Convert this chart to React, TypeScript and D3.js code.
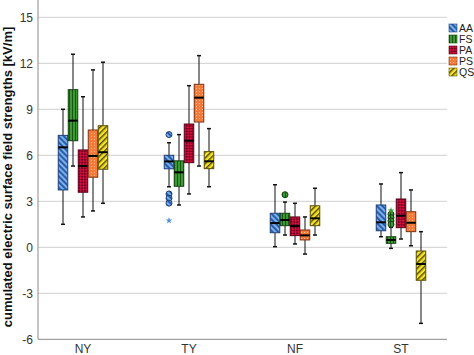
import React from 'react';
import * as d3 from 'd3';

const categories = ['NY', 'TY', 'NF', 'ST'];
const seriesNames = ['AA', 'FS', 'PA', 'PS', 'QS'];
const yTicks = [-6, -3, 0, 3, 6, 9, 12, 15];

// [lower whisker, Q1, median, Q3, upper whisker] per category
const AA = [[1.5, 3.74, 6.52, 7.3, 9.0], [3.95, 5.12, 5.6, 6.0, 6.82], [0.04, 0.95, 1.58, 2.22, 4.08], [0.69, 1.08, 1.63, 2.76, 4.13]];
const FS = [[5.3, 6.95, 8.26, 10.28, 12.59], [2.76, 3.98, 4.89, 5.64, 7.35], [0.8, 1.41, 1.78, 2.22, 2.95], [-0.07, 0.26, 0.48, 0.69, 1.3]];
const PA = [[1.98, 3.59, 5.3, 6.35, 9.82], [3.48, 5.52, 6.95, 8.04, 10.54], [0.22, 0.76, 1.39, 1.98, 2.87], [0.54, 1.28, 2.06, 3.15, 4.87]];
const PS = [[2.37, 4.57, 5.96, 7.65, 11.57], [5.3, 8.17, 9.76, 10.63, 12.5], [-0.44, 0.48, 0.78, 1.13, 1.98], [0.1, 1.02, 1.6, 2.32, 3.74]];
const QS = [[2.87, 5.09, 6.2, 7.93, 12.07], [3.95, 5.13, 5.61, 6.24, 7.74], [0.8, 1.41, 1.89, 2.71, 3.85], [-4.96, -2.15, -1.09, -0.24, 1.02]];
const seriesStats = [AA, FS, PA, PS, QS];

// outliers (circles)
const outlierCat = ['TY', 'TY', 'TY', 'TY', 'NF', 'ST', 'ST', 'ST', 'ST'];
const outlierSer = ['AA', 'AA', 'AA', 'AA', 'FS', 'FS', 'FS', 'FS', 'FS'];
const outlierVal = [7.35, 3.48, 3.2, 2.88, 3.43, 2.15, 1.93, 1.72, 1.5];
// extreme values (stars)
const extremeCat = ['TY', 'ST'];
const extremeSer = ['AA', 'FS'];
const extremeVal = [1.74, 2.39];

const baseColors = ['#4f8ed8', '#3a9832', '#cf1139', '#f47a3a', '#f0e025'];
const edgeColors = ['#1d3f7a', '#14400f', '#5a0018', '#7a3010', '#5a5000'];

const W = 474;
const H = 355;

function Patterns() {
  return (
    <defs>
      <pattern id="pAA" patternUnits="userSpaceOnUse" width="4" height="4" patternTransform="rotate(-45)">
        <rect width="4" height="4" fill="#5b9ae0" />
        <rect x="0" width="1.6" height="4" fill="#1f4f9e" />
        <rect x="2.4" width="0.8" height="4" fill="#a9cbf2" />
      </pattern>
      <pattern id="pFS" patternUnits="userSpaceOnUse" width="3" height="3">
        <rect width="3" height="3" fill="#3c9a34" />
        <rect x="0" width="1" height="3" fill="#1a5514" />
      </pattern>
      <pattern id="pPA" patternUnits="userSpaceOnUse" width="4" height="4" patternTransform="rotate(45)">
        <rect width="4" height="4" fill="#d3133d" />
        <rect x="0" y="0" width="2" height="2" fill="#7c0022" />
        <rect x="2" y="2" width="2" height="2" fill="#7c0022" />
      </pattern>
      <pattern id="pPS" patternUnits="userSpaceOnUse" width="3" height="3">
        <rect width="3" height="3" fill="#f47a3a" />
        <rect x="1" y="1" width="1" height="1" fill="#ffb890" />
      </pattern>
      <pattern id="pQS" patternUnits="userSpaceOnUse" width="4" height="4" patternTransform="rotate(45)">
        <rect width="4" height="4" fill="#f4e42a" />
        <rect x="0" width="1.5" height="4" fill="#5a4c00" />
      </pattern>
    </defs>
  );
}

export default function App() {
  const y = d3.scaleLinear().domain([-6, 15]).range([339.3, 17.3]);
  const x = d3.scaleBand<string>().domain(categories).range([30, 454]).paddingInner(0).paddingOuter(0);
  const off = d3.scalePoint<string>().domain(seriesNames).range([-20, 20]);
  const boxW = 9.5;
  const capW = 4;
  const cx = (cat: string, ser: string) => (x(cat) as number) + x.bandwidth() / 2 + (off(ser) as number);
  const plotLeft = 38;
  const plotRight = 447;

  const starPath = d3.symbol().type(d3.symbolStar).size(14)() as string;

  return (
    <svg width={W} height={H} style={{ position: 'absolute', left: 0, top: 0, background: '#fff' }}
      fontFamily="'Liberation Sans', Arial, sans-serif">
      <Patterns />
      <rect width={W} height={H} fill="#fff" />
      {/* gridlines */}
      {yTicks.map((t) => (
        t === -6 ? null :
        <line key={'g' + t} x1={plotLeft} x2={plotRight} y1={y(t)} y2={y(t)} stroke="#cfcfcf" strokeWidth={1} />
      ))}
      {/* axes */}
      <line x1={plotLeft} x2={plotLeft} y1={0} y2={y(-6)} stroke="#8a8a8a" strokeWidth={1} />
      <line x1={plotLeft} x2={plotRight} y1={y(-6)} y2={y(-6)} stroke="#8a8a8a" strokeWidth={1} />
      {/* y tick labels */}
      {yTicks.map((t) => (
        <text key={'t' + t} x={33} y={y(t)} dy="0.35em" textAnchor="end" fontSize={12} fill="#333">{t}</text>
      ))}
      {/* x labels */}
      {categories.map((c) => (
        <text key={'c' + c} x={(x(c) as number) + x.bandwidth() / 2} y={353} textAnchor="middle" fontSize={12} fill="#333">{c}</text>
      ))}
      {/* y title */}
      <text transform={`translate(11.5,177) rotate(-90)`} textAnchor="middle" fontSize={13} fontWeight="bold" fill="#111">
        cumulated electric surface field strengths [kV/m]
      </text>
      {/* boxes */}
      {seriesNames.map((s, si) => (
        <g key={s}>
          {categories.map((c, ci) => {
            const [lo, q1, med, q3, hi] = seriesStats[si][ci];
            const px = cx(c, s);
            return (
              <g key={c}>
                <line x1={px} x2={px} y1={y(hi)} y2={y(q3)} stroke="#111" strokeWidth={1} />
                <line x1={px} x2={px} y1={y(q1)} y2={y(lo)} stroke="#111" strokeWidth={1} />
                <line x1={px - capW / 2} x2={px + capW / 2} y1={y(hi)} y2={y(hi)} stroke="#111" strokeWidth={1.5} />
                <line x1={px - capW / 2} x2={px + capW / 2} y1={y(lo)} y2={y(lo)} stroke="#111" strokeWidth={1.5} />
                <rect x={px - boxW / 2} y={y(q3)} width={boxW} height={y(q1) - y(q3)} fill={`url(#p${s})`} stroke={edgeColors[si]} strokeWidth={1} />
                <line x1={px - boxW / 2} x2={px + boxW / 2} y1={y(med)} y2={y(med)} stroke="#000" strokeWidth={2} />
              </g>
            );
          })}
        </g>
      ))}
      {/* outliers */}
      {outlierVal.map((v, i) => {
        const si = seriesNames.indexOf(outlierSer[i]);
        return (
          <circle key={'o' + i} cx={cx(outlierCat[i], outlierSer[i])} cy={y(v)} r={3} fill={`url(#p${outlierSer[i]})`} stroke={edgeColors[si]} strokeWidth={1} />
        );
      })}
      {extremeVal.map((v, i) => {
        const si = seriesNames.indexOf(extremeSer[i]);
        return (
          <path key={'e' + i} d={starPath} transform={`translate(${cx(extremeCat[i], extremeSer[i])},${y(v)})`} fill={baseColors[si]} />
        );
      })}
      {/* legend */}
      {seriesNames.map((s, i) => (
        <g key={'l' + s} transform={`translate(449,${28 + i * 11})`}>
          <rect x={0} y={-4} width={8} height={8} fill={`url(#p${s})`} stroke={edgeColors[i]} strokeWidth={0.6} />
          <text x={10} y={0} dy="0.35em" fontSize={10.5} fill="#222">{s}</text>
        </g>
      ))}
    </svg>
  );
}
